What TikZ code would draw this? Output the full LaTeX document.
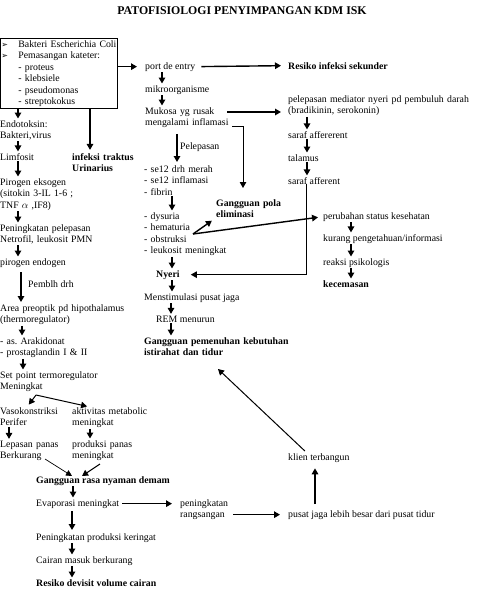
\documentclass[tikz,border=0pt]{standalone}
\usepackage{fontspec}
\setmainfont{Liberation Serif}
\newfontfamily\dejavu{DejaVu Sans}
\usetikzlibrary{arrows.meta}
\newcommand{\blt}{\makebox[17pt][l]{\dejavu\fontsize{8}{8}\selectfont ➢}}
\frenchspacing
\begin{document}
\begin{tikzpicture}[x=1pt,y=-1pt,
  every node/.style={inner sep=0pt, anchor=base west, font=\fontsize{9.8}{11.5}\selectfont},
  txt/.style={text width=#1, align=left},
  bld/.style={font=\fontsize{9.8}{11.5}\selectfont\bfseries},
  tip/.style={-{Triangle[length=6pt,width=6.5pt]}},
  arr/.style={tip, line width=1.4pt},
  varr/.style={arr, shorten <=1pt, shorten >=1.5pt},
  marr/.style={tip, line width=1pt},
  tarr/.style={-{Triangle[length=6pt,width=6pt]}, line width=0.7pt},
]
\useasboundingbox (0,0) rectangle (484,600);
\node[anchor=base, font=\fontsize{11.8}{14}\selectfont\bfseries] (title) at (242,14) {PATOFISIOLOGI PENYIMPANGAN KDM ISK};

% source box
\node[draw, line width=0.9pt, anchor=north west, text width=115pt, inner xsep=1pt, inner ysep=1.5pt,
      minimum height=70pt, align=left] (src) at (0,38)
 {\mbox{\blt Bakteri Escherichia Coli}\\
  \mbox{\blt Pemasangan kateter:}\\
  \mbox{\hspace*{17pt}- proteus}\\
  \mbox{\hspace*{17pt}- klebsiele}\\
  \mbox{\hspace*{17pt}- pseudomonas}\\
  \mbox{\hspace*{17pt}- streptokokus}};

% middle / right column
\node (port) at (145,69) {port de entry};
\node[bld] (res1) at (288,69) {Resiko infeksi sekunder};
\node (mikro) at (145,92) {mikroorganisme};
\node[txt=100pt] (muk) at (145,114) {Mukosa yg rusak\\mengalami inflamasi};
\node[txt=195pt] (pmed) at (288,102) {pelepasan mediator nyeri pd pembuluh darah\\(bradikinin, serokonin)};
\node (s1) at (288,138) {saraf affererent};
\node (tal) at (288,161) {talamus};
\node (s2) at (288,184) {saraf afferent};
\node (plp) at (180,149) {Pelepasan};
\node[txt=100pt] (l1) at (144,172) {- se12 drh merah\\- se12 inflamasi\\- fibrin};
\node[txt=100pt] (l2) at (144,219) {- dysuria\\- hematuria\\- obstruksi\\- leukosit meningkat};
\node[bld,txt=85pt] (gpe) at (216,206) {Gangguan pola\\eliminasi};
\node[bld] (nyeri) at (156,277) {Nyeri};
\node (menst) at (144,300) {Menstimulasi pusat jaga};
\node (rem) at (156,322) {REM menurun};
\node[bld,txt=160pt] (gpk) at (144,344) {Gangguan pemenuhan kebutuhan\\istirahat dan tidur};
\node (perub) at (323,219) {perubahan status kesehatan};
\node (kurang) at (323,241) {kurang pengetahuan/informasi};
\node (reaksi) at (323,265) {reaksi psikologis};
\node[bld] (cemas) at (323,287) {kecemasan};

% left column
\node[txt=70pt] (endo) at (0,127) {Endotoksin:\\Bakteri,virus};
\node[bld,txt=80pt] (itu) at (72,160) {infeksi traktus\\Urinarius};
\node (limf) at (0,160) {Limfosit};
\node[txt=100pt] (piro) at (0,185) {Pirogen eksogen\\(sitokin 3-IL 1-6 ;\\TNF $\alpha$ ,IF8)};
\node[txt=115pt] (pen) at (0,231) {Peningkatan pelepasan\\Netrofil, leukosit PMN};
\node (pend) at (0,265) {pirogen endogen};
\node (pem) at (28,287) {Pemblh drh};
\node[txt=140pt] (area) at (0,311) {Area preoptik pd hipothalamus\\(thermoregulator)};
\node[txt=110pt] (ara) at (0,344) {- as. Arakidonat\\- prostaglandin I \& II};
\node[txt=120pt] (setp) at (0,378) {Set point termoregulator\\Meningkat};
\node[txt=70pt] (vaso) at (0,414) {Vasokonstriksi\\Perifer};
\node[txt=90pt] (akt) at (72,414) {aktivitas metabolic\\meningkat};
\node[txt=70pt] (lep) at (0,447) {Lepasan panas\\Berkurang};
\node[txt=80pt] (prod) at (72,447) {produksi panas\\meningkat};
\node[bld] (grnd) at (36,483) {Gangguan rasa nyaman demam};
\node (evap) at (36,506) {Evaporasi meningkat};
\node[txt=55pt] (pr) at (180,506) {peningkatan\\rangsangan};
\node (pj) at (288,517) {pusat jaga lebih besar dari pusat tidur};
\node (klien) at (288,460) {klien terbangun};
\node (ker) at (36,540) {Peningkatan produksi keringat};
\node (cair) at (36,563) {Cairan masuk berkurang};
\node[bld] (res2) at (36,586) {Resiko devisit volume cairan};

\coordinate (mukA) at (227,112);
\coordinate (mukB) at (232,126);
\coordinate (obs) at (193,234);
\coordinate (br) at (36,395);
\coordinate (lepA) at (45,459);
\coordinate (prodA) at (100,464);
\coordinate (gpkT) at (218,369);

% connectors: middle / right
\draw[arr, shorten >=8pt] (src.east |- port.west) -- (port.west);
\draw[arr, shorten <=6pt, shorten >=7pt] (port.east) -- (res1.west);
\draw[varr] (162,0 |- port.south) -- (162,0 |- mikro.north);
\draw[varr] (162,0 |- mikro.south) -- (162,0 |- muk.north);
\draw[arr, shorten >=7pt] (mukA) -- (pmed.west |- mukA);
\draw[marr, shorten >=11pt] (mukB) -| (gpe.north -| 243,0);
\draw[arr, shorten <=6pt, shorten >=3pt] (177,0 |- muk.south) -- (177,0 |- l1.north);
\draw[varr] (307,0 |- pmed.south) -- (307,0 |- s1.north);
\draw[varr] (307,0 |- s1.south) -- (307,0 |- tal.north);
\draw[varr] (307,0 |- tal.south) -- (307,0 |- s2.north);
\draw[marr, shorten >=11pt] (306,0 |- s2.south) |- (nyeri.east);
\draw[varr] (172,0 |- l1.south) -- (172,0 |- l2.north);
\draw[arr, shorten >=5pt] (obs) -- (gpe.south west);
\draw[arr, shorten >=5pt] (obs) -- (perub.west);
\draw[varr] (172,0 |- l2.south) -- (172,0 |- nyeri.north);
\draw[varr] (172,0 |- nyeri.south) -- (172,0 |- menst.north);
\draw[varr] (171,0 |- menst.south) -- (171,0 |- rem.north);
\draw[varr] (171,0 |- rem.south) -- (171,0 |- gpk.north);
\draw[varr] (351,0 |- perub.south) -- (351,0 |- kurang.north);
\draw[varr] (351,0 |- kurang.south) -- (351,0 |- reaksi.north);
\draw[varr] (351,0 |- reaksi.south) -- (351,0 |- cemas.north);

% connectors: left
\draw[varr, shorten <=0pt] (18,0 |- src.south) -- (18,0 |- endo.north);
\draw[arr, shorten >=3pt] (90,0 |- src.south) -- (90,0 |- itu.north);
\draw[varr] (18,0 |- endo.south) -- (18,0 |- limf.north);
\draw[varr] (18,0 |- limf.south) -- (18,0 |- piro.north);
\draw[varr] (18,0 |- piro.south) -- (18,0 |- pen.north);
\draw[varr] (18,0 |- pen.south) -- (18,0 |- pend.north);
\draw[arr, shorten <=5pt, shorten >=2pt] (21,0 |- pend.south) -- (21,0 |- area.north);
\draw[varr] (22,0 |- area.south) -- (22,0 |- ara.north);
\draw[varr] (23,0 |- ara.south) -- (23,0 |- setp.north);
\draw[marr, shorten >=3pt] (br) -- (27,0 |- vaso.north);
\draw[marr, shorten >=3pt] (br) -- (90,0 |- akt.north);
\draw[varr] (9,0 |- vaso.south) -- (9,0 |- lep.north);
\draw[varr] (90,0 |- akt.south) -- (90,0 |- prod.north);
\draw[tarr] (lepA) -- (72,0 |- grnd.north);
\draw[marr] (prodA) -- (82,0 |- grnd.north);
\draw[varr] (73,0 |- grnd.south) -- (73,0 |- evap.north);
\draw[arr, shorten <=3pt, shorten >=8pt] (evap.east) -- (pr.west |- evap.east);
\draw[arr, shorten <=3pt, shorten >=3pt] (72,0 |- evap.south) -- (72,0 |- ker.north);
\draw[varr] (72,0 |- ker.south) -- (72,0 |- cair.north);
\draw[varr] (72,0 |- cair.south) -- (72,0 |- res2.north);
\draw[arr, shorten <=-2pt, shorten >=8pt] (pr.east |- pj.west) -- (pj.west);
\draw[arr, shorten <=6pt, shorten >=6pt] (315,0 |- pj.north) -- (315,0 |- klien.south);
\draw[marr, shorten <=3pt] (307,0 |- klien.north) -- (gpkT);
\end{tikzpicture}
\end{document}
